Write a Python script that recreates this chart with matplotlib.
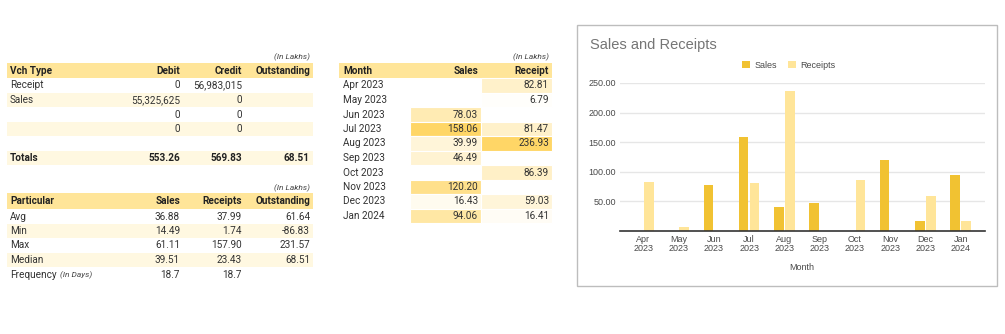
import matplotlib
matplotlib.use('Agg')
import matplotlib.pyplot as plt
from matplotlib.patches import Rectangle
from matplotlib.colors import LinearSegmentedColormap, Normalize
import numpy as np

W, H = 1005, 334

# --- data ---
vch_types = ['Receipt', 'Sales', '', '']
debit = ['0', '55,325,625', '0', '0']
credit = ['56,983,015', '0', '0', '0']
totals = ['553.26', '569.83', '68.51']

particulars = ['Avg', 'Min', 'Max', 'Median', 'Frequency']
stat_sales = ['36.88', '14.49', '61.11', '39.51', '18.7']
stat_receipts = ['37.99', '1.74', '157.90', '23.43', '18.7']
stat_outstanding = ['61.64', '-86.83', '231.57', '68.51', '']

months = ['Apr 2023', 'May 2023', 'Jun 2023', 'Jul 2023', 'Aug 2023',
          'Sep 2023', 'Oct 2023', 'Nov 2023', 'Dec 2023', 'Jan 2024']
sales = np.array([np.nan, np.nan, 78.03, 158.06, 39.99, 46.49, np.nan, 120.20, 16.43, 94.06])
receipts = np.array([82.81, 6.79, np.nan, 81.47, 236.93, np.nan, 86.39, np.nan, 59.03, 16.41])

HEAD = '#FFE599'
STRIPE = '#FFF8E1'
TXT = '#222222'
TFONT = 'Roboto'
CFONT = 'Liberation Sans'

fig = plt.figure(figsize=(W / 100, H / 100), dpi=100)


def fx(x):
    return x / W


def fy(y):
    return 1 - y / H


def band(x0, x1, y0, y1, color, edge='none', lw=0):
    fig.patches.append(Rectangle((fx(x0), fy(y1)), (x1 - x0) / W, (y1 - y0) / H,
                                 transform=fig.transFigure, facecolor=color,
                                 edgecolor=edge, linewidth=lw))


def txt(x, y, s, ha='left', bold=False, italic=False, size=7.2, color=TXT, font=TFONT, va='center'):
    fig.text(fx(x), fy(y), s, ha=ha, va=va, fontsize=size, color=color,
             family=font, fontweight='bold' if bold else 'normal',
             fontstyle='italic' if italic else 'normal')


pitch = 14.5

# --- table 1: voucher types ---
txt(310, 57, '(In Lakhs)', ha='right', italic=True, size=6, color='#444444')
band(7, 313, 63, 78, HEAD)
y = 70.5
txt(10, y, 'Vch Type', bold=True)
txt(180, y, 'Debit', ha='right', bold=True)
txt(242, y, 'Credit', ha='right', bold=True)
txt(310, y, 'Outstanding', ha='right', bold=True)
for i in range(len(vch_types) + 1):
    yc = 85.5 + i * pitch
    if i % 2 == 1:
        band(7, 313, yc - pitch / 2, yc + pitch / 2, STRIPE)
    if i < len(vch_types):
        txt(10, yc, vch_types[i], color='#333333')
        txt(180, yc, debit[i], ha='right', color='#333333')
        txt(242, yc, credit[i], ha='right', color='#333333')
yc = 85.5 + 5 * pitch
band(7, 313, yc - pitch / 2, yc + pitch / 2, STRIPE)
txt(10, yc, 'Totals', bold=True)
for xr, v in zip([180, 242, 310], totals):
    txt(xr, yc, v, ha='right', bold=True)

# --- table 2: statistics ---
txt(310, 188.5, '(In Lakhs)', ha='right', italic=True, size=6, color='#444444')
band(7, 313, 193, 208.5, HEAD)
y = 200.7
txt(10, y, 'Particular', bold=True)
txt(180, y, 'Sales', ha='right', bold=True)
txt(242, y, 'Receipts', ha='right', bold=True)
txt(310, y, 'Outstanding', ha='right', bold=True)
for i, p in enumerate(particulars):
    yc = 216.5 + i * pitch
    if i % 2 == 1:
        band(7, 313, yc - pitch / 2, yc + pitch / 2, STRIPE)
    txt(10, yc, p, color='#333333')
    txt(180, yc, stat_sales[i], ha='right', color='#333333')
    txt(242, yc, stat_receipts[i], ha='right', color='#333333')
    txt(310, yc, stat_outstanding[i], ha='right', color='#333333')
txt(59.5, 277.5, '(In Days)', italic=True, size=6, color='#444444', va='baseline')

# --- table 3: monthly heat table ---
heat = LinearSegmentedColormap.from_list('heat', ['#FFFFFF', '#FFD666'])
txt(549, 57, '(In Lakhs)', ha='right', italic=True, size=6, color='#444444')
band(339, 552, 63, 78, HEAD)
y = 70.5
txt(343, y, 'Month', bold=True)
txt(478, y, 'Sales', ha='right', bold=True)
txt(549, y, 'Receipt', ha='right', bold=True)
for col, (vals, x0, x1) in enumerate([(sales, 410, 481), (receipts, 481, 552)]):
    norm = Normalize(0, np.nanmax(vals))
    for i, v in enumerate(vals):
        yc = 85.5 + i * pitch
        if not np.isnan(v):
            band(x0, x1, yc - pitch / 2, yc + pitch / 2, heat(norm(v)), edge='white', lw=0.8)
            txt(x1 - 3, yc, f'{v:.2f}', ha='right', color='#333333')
for i, m in enumerate(months):
    txt(343, 85.5 + i * pitch, m, color='#333333')

# --- chart ---
band(577, 997, 25, 286, 'none', edge='#BDBDBD', lw=1)
txt(590, 45.5, 'Sales and Receipts', size=10.5, color='#757575', font=CFONT)

ax = fig.add_axes([fx(620), fy(231), (985 - 620) / W, (231 - 83) / H])
x = np.arange(len(months))
bw = 0.27
b1 = ax.bar(x - bw / 2 - 0.02, np.nan_to_num(sales), bw, color='#F1C232', label='Sales')
b2 = ax.bar(x + bw / 2 + 0.02, np.nan_to_num(receipts), bw, color='#FFE599', label='Receipts')
ax.set_xlim(-0.66, 9.69)
ax.set_ylim(0, 250)
ax.set_yticks([50, 100, 150, 200, 250])
ax.set_yticklabels([f'{t:.2f}' for t in [50, 100, 150, 200, 250]])
ax.set_xticks(x)
ax.set_xticklabels([m.replace(' ', '\n') for m in months], linespacing=1.0)
for lab in ax.get_xticklabels() + ax.get_yticklabels():
    lab.set_family(CFONT)
    lab.set_fontsize(6.5)
    lab.set_color('#4A4A4A')
ax.tick_params(length=0)
ax.tick_params(axis='y', pad=3)
ax.tick_params(axis='x', pad=3)
ax.grid(axis='y', color='#E6E6E6', linewidth=1)
ax.set_axisbelow(True)
for s in ['top', 'right', 'left']:
    ax.spines[s].set_visible(False)
ax.spines['bottom'].set_color('#333333')
ax.spines['bottom'].set_linewidth(1.2)

txt(802, 268, 'Month', ha='center', size=6.5, color='#4A4A4A', font=CFONT)
fig.legend([b1, b2], ['Sales', 'Receipts'], loc='center', bbox_to_anchor=(fx(789), fy(65)),
           ncol=2, frameon=False, handlelength=0.9, handleheight=0.9, handletextpad=0.5,
           columnspacing=1.2, prop={'family': CFONT, 'size': 6.5}, labelcolor='#4A4A4A')

fig.savefig('out.png', dpi=100)
